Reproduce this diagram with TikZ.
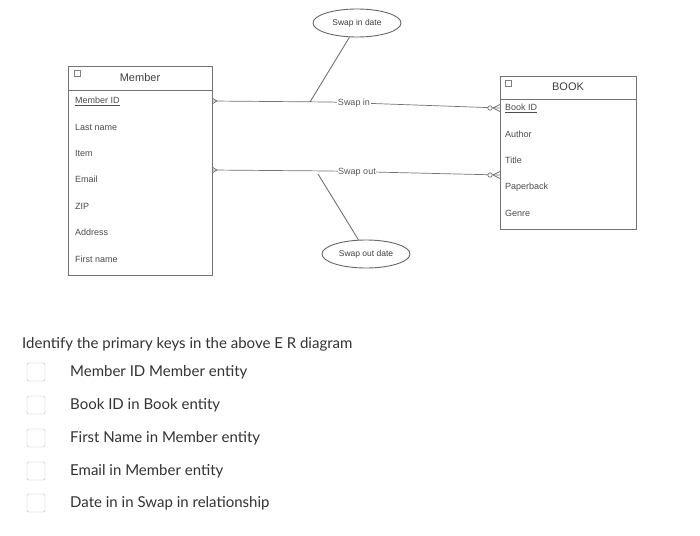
\documentclass[tikz,border=0pt]{standalone}
\usepackage{fontspec}
\usetikzlibrary{shapes.geometric}
\setmainfont{Liberation Sans}
\newfontfamily\qfont{Lato}
\begin{document}
\begin{tikzpicture}[x=1pt,y=-1pt,
  ent/.style={draw=black!55,line width=0.9pt},
  attr/.style={anchor=west,font=\fontsize{9}{11}\selectfont,text=black!70,inner sep=0},
  rel/.style={draw=black!55,line width=0.7pt},
  rlab/.style={fill=white,inner sep=0.5pt,font=\fontsize{9}{11}\selectfont,text=black!65},
  ell/.style={draw=black!60,ellipse,line width=0.9pt,minimum width=88,minimum height=28,font=\fontsize{8.5}{10}\selectfont,text=black!75},
  qtxt/.style={anchor=west,font=\qfont\fontsize{15}{17}\selectfont,text=black!80,inner sep=0},
  cbox/.style={draw=black!25,rounded corners=2pt,minimum width=18,minimum height=18,inner sep=0}]
\fill[white] (0,0) rectangle (700,535);
\useasboundingbox (0,0) rectangle (700,535);
% Member
\draw[ent] (68,66) rectangle (212,275);
\draw[ent] (68,90) -- (212,90);
\node[draw=black!50,minimum size=6,inner sep=0] (mi) at (77,73) {};
\node[font=\fontsize{11}{13}\selectfont,text=black!75] (mt) at (140,78) {Member};
\node[attr] (m1) at (75,101) {\underline{Member ID}};
\node[attr] (m2) at (75,127) {Last name};
\node[attr] (m3) at (75,153) {Item};
\node[attr] (m4) at (75,179) {Email};
\node[attr] (m5) at (75,206) {ZIP};
\node[attr] (m6) at (75,232) {Address};
\node[attr] (m7) at (75,259) {First name};
% Book
\draw[ent] (500,76) rectangle (636,229);
\draw[ent] (500,99) -- (636,99);
\node[draw=black!50,minimum size=6,inner sep=0] (bi) at (508,83) {};
\node[font=\fontsize{11}{13}\selectfont,text=black!75] (bt) at (568,87) {BOOK};
\node[attr] (b1) at (505,108) {\underline{Book ID}};
\node[attr] (b2) at (505,134) {Author};
\node[attr] (b3) at (505,160) {Title};
\node[attr] (b4) at (505,187) {Paperback};
\node[attr] (b5) at (505,213) {Genre};
% relationships
\coordinate (a1) at (212,101); \coordinate (a2) at (500,108);
\coordinate (c1) at (212,170); \coordinate (c2) at (500,175);
\draw[rel] (a1) -- (330,102) -- (a2);
\node[rlab] (si) at (354,103) {Swap in};
\draw[rel] (c1) -- (330,171) -- (c2);
\node[rlab] (so) at (357,172) {Swap out};
% markers
\draw[rel] (212,98) -- (217,101) -- (212,104);
\draw[rel] (212,167) -- (217,170) -- (212,173);
\draw[rel] (493,108) -- (500,104.5) (493,108) -- (500,111.5);
\draw[rel,fill=white] (490,108) circle (2.2);
\draw[rel] (493,175) -- (500,171.5) (493,175) -- (500,178.5);
\draw[rel,fill=white] (490,175) circle (2.2);
% ellipses
\node[ell] (sid) at (357,23) {Swap in date};
\node[ell] (sod) at (366,254) {Swap out date};
\coordinate (p1) at (310,102);
\coordinate (p2) at (318,174);
\draw[rel,line width=0.9pt] (p1) -- (sid.-118);
\draw[rel,line width=0.9pt] (p2) -- (sod.118);
% question
\node[qtxt] (q) at (22,344) {Identify the primary keys in the above E R diagram};
\foreach \y/\t [count=\i] in {372/Member ID Member entity,405/Book ID in Book entity,438/First Name in Member entity,471/Email in Member entity,503/Date in in Swap in relationship}{
  \node[cbox] (cb\i) at (36,\y) {};
  \node[qtxt] (o\i) at (70,\y) {\t};
}
\end{tikzpicture}
\end{document}
